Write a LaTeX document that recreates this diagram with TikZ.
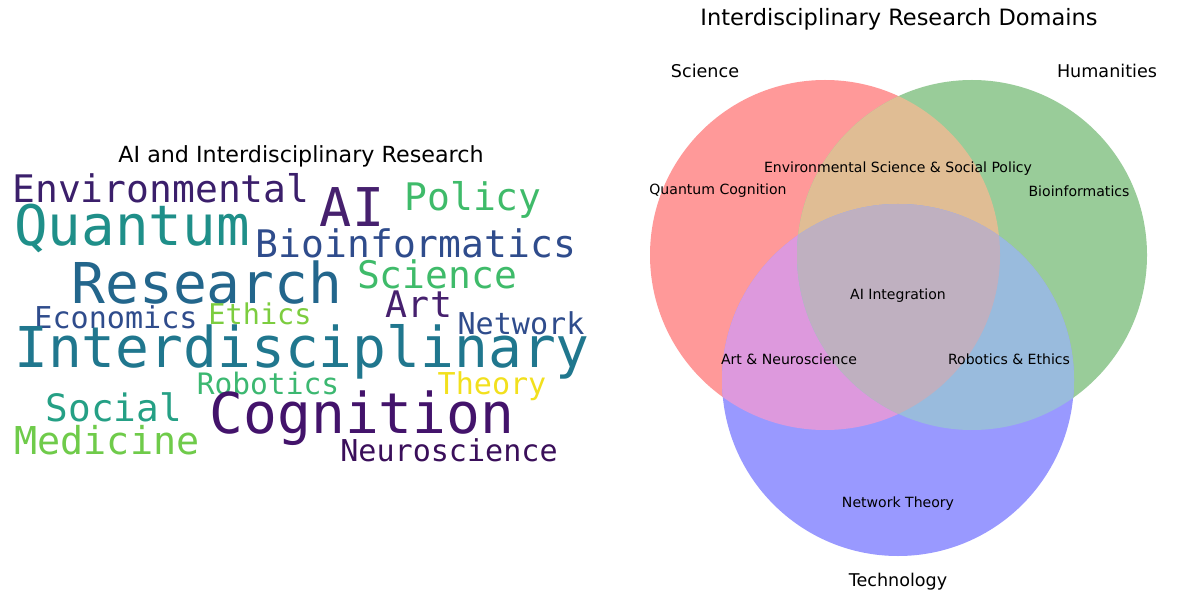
\documentclass[tikz,border=0pt]{standalone}
\usepackage{fontspec}
\setmainfont{DejaVu Sans}
\newfontfamily\cloudfont{DejaVu Sans Mono}
\definecolor{vA}{HTML}{3B1F6B}
\definecolor{vB}{HTML}{1F8F89}
\definecolor{vC}{HTML}{46206E}
\definecolor{vD}{HTML}{3FBB6A}
\definecolor{vE}{HTML}{2F4C8C}
\definecolor{vF}{HTML}{23668C}
\definecolor{vG}{HTML}{7CCD3F}
\definecolor{vH}{HTML}{20778E}
\definecolor{vI}{HTML}{F2E01D}
\definecolor{vJ}{HTML}{25A085}
\definecolor{vK}{HTML}{43136B}
\definecolor{vL}{HTML}{6FCB4A}
\definecolor{vM}{HTML}{3A0F5A}
\definecolor{vN}{HTML}{3CB871}
\definecolor{cR}{HTML}{FF9999}
\definecolor{cG}{HTML}{99CC99}
\definecolor{cB}{HTML}{9999FF}
\definecolor{cRG}{HTML}{E0BD94}
\definecolor{cRB}{HTML}{DD99DD}
\definecolor{cGB}{HTML}{99BBDD}
\definecolor{cRGB}{HTML}{BFB0C0}
\newcommand{\cloudword}[6]{\node[inner sep=0pt,text=#5] (#1) at (#2,#3)
  {\cloudfont\fontsize{#4}{#4}\selectfont #6};}
\newcommand{\circR}{(825,255) circle (175)}
\newcommand{\circG}{(972,255) circle (175)}
\newcommand{\circB}{(898,380) circle (176)}
\tikzset{
  setlabel/.style={font=\fontsize{12.5}{13}\selectfont},
  arealabel/.style={font=\fontsize{10}{11}\selectfont}
}
\begin{document}
\begin{tikzpicture}[x=0.025cm,y=-0.025cm]
\useasboundingbox[fill=white] (0,0) rectangle (1200,609);
% word cloud
\node[font=\fontsize{15.8}{16}\selectfont] (cloudtitle) at (301,156) {AI and Interdisciplinary Research};
\cloudword{wEnv}{161}{188}{27}{vA}{Environmental}
\cloudword{wQua}{132}{228}{39.7}{vB}{Quantum}
\cloudword{wAI}{352}{207}{38}{vC}{AI}
\cloudword{wPol}{473}{200}{27}{vD}{Policy}
\cloudword{wBio}{416}{243}{27}{vE}{Bioinformatics}
\cloudword{wRes}{207}{283}{40}{vF}{Research}
\cloudword{wSci}{437}{274}{27}{vD}{Science}
\cloudword{wArt}{419}{304}{26}{vC}{Art}
\cloudword{wEco}{116}{317}{21.4}{vE}{Economics}
\cloudword{wEth}{260}{314}{20.3}{vG}{Ethics}
\cloudword{wNet}{521}{323}{21.4}{vE}{Network}
\cloudword{wInt}{302}{352}{40}{vH}{Interdisciplinary}
\cloudword{wRob}{268}{383}{21}{vN}{Robotics}
\cloudword{wThe}{492}{386}{21.4}{vI}{Theory}
\cloudword{wSoc}{114}{407}{26.8}{vJ}{Social}
\cloudword{wCog}{362}{418}{40}{vK}{Cognition}
\cloudword{wMed}{107}{440}{27.3}{vL}{Medicine}
\cloudword{wNeu}{449}{450}{21.4}{vM}{Neuroscience}
% venn diagram
\node[font=\fontsize{16}{17}\selectfont] (venntitle) at (899,19) {Interdisciplinary Research Domains};
\fill[cR] \circR;
\fill[cG] \circG;
\fill[cB] \circB;
\begin{scope}
  \clip \circR;
  \fill[cRG] \circG;
  \fill[cRB] \circB;
  \clip \circG;
  \fill[cRGB] \circB;
\end{scope}
\begin{scope}
  \clip \circG;
  \clip \circB;
  \fill[cGB] (0,0) rectangle (1200,609);
  \clip \circR;
  \fill[cRGB] (0,0) rectangle (1200,609);
\end{scope}
\node[setlabel] (sci) at (705,71) {Science};
\node[setlabel] (hum) at (1107,71) {Humanities};
\node[setlabel] (tec) at (898,582) {Technology};
\node[arealabel] (qc) at (718,191) {Quantum Cognition};
\node[arealabel] (env) at (898,169) {Environmental Science \& Social Policy};
\node[arealabel] (bio) at (1079,191) {Bioinformatics};
\node[arealabel] (ai) at (898,296) {AI Integration};
\node[arealabel] (art) at (789,359) {Art \& Neuroscience};
\node[arealabel] (rob) at (1009,359) {Robotics \& Ethics};
\node[arealabel] (net) at (898,504) {Network Theory};
\end{tikzpicture}
\end{document}
